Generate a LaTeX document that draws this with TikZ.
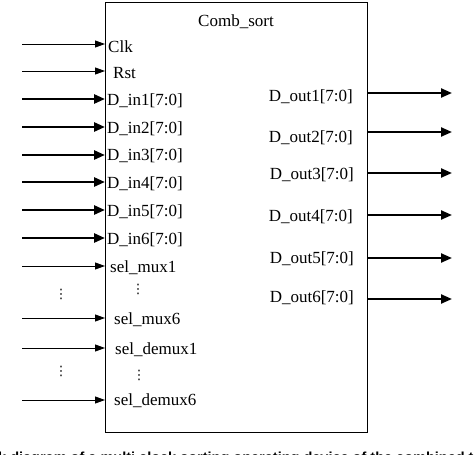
\documentclass[tikz,border=0pt]{standalone}
\usepackage{fontspec}
\setmainfont{Liberation Serif}
\newfontfamily\capfont{Liberation Sans}
\newfontfamily\symfont{DejaVu Sans}
\usetikzlibrary{arrows.meta}
\begin{document}
\begin{tikzpicture}[x=1pt,y=-1pt,
  lbl/.style={inner sep=0pt,font=\fontsize{17}{20}\selectfont},
  inl/.style={lbl,anchor=west},
  outl/.style={lbl,anchor=east},
  thinarr/.style={line width=0.9pt,-{Triangle[length=10pt,width=7pt]}},
  thickarr/.style={line width=2.6pt,-{Triangle[length=11pt,width=9pt]}},
  dotsnode/.style={inner sep=0pt,font=\symfont\fontsize{13}{15}\selectfont}]
\useasboundingbox (0,0) rectangle (474,455);
\clip (0,0) rectangle (474,455);
% block
\node[draw,line width=1.4pt,minimum width=262pt,minimum height=430pt,anchor=north west,inner sep=0pt] (blk) at (105,2) {};
\node[lbl] (title) at (236,22) {Comb\_sort};
% input ports (coordinates on block edge)
\foreach \n/\y in {clk/44,rst/71,d1/99,d2/127,d3/155,d4/182,d5/210,d6/238,sm1/266,sm6/318,sd1/348,sd6/400}{
  \coordinate (p\n) at (blk.west |- 0,\y);
  \coordinate (s\n) at (22,\y);
}
\draw[thinarr] (sclk) -- (pclk);
\draw[thinarr] (srst) -- (prst);
\foreach \n in {d1,d2,d3,d4,d5,d6}{\draw[thickarr] (s\n) -- (p\n);}
\foreach \n in {sm1,sm6,sd1,sd6}{\draw[thinarr] (s\n) -- (p\n);}
% input labels
\node[inl] (lclk) at (108,47) {Clk};
\node[inl] (lrst) at (113,73) {Rst};
\node[inl] (ld1) at (107,101) {D\_in1[7:0]};
\node[inl] (ld2) at (107,129) {D\_in2[7:0]};
\node[inl] (ld3) at (107,156) {D\_in3[7:0]};
\node[inl] (ld4) at (107,184) {D\_in4[7:0]};
\node[inl] (ld5) at (107,212) {D\_in5[7:0]};
\node[inl] (ld6) at (107,240) {D\_in6[7:0]};
\node[inl] (lsm1) at (110,268) {sel\_mux1};
\node[inl] (lsm6) at (114,320) {sel\_mux6};
\node[inl] (lsd1) at (115,350) {sel\_demux1};
\node[inl] (lsd6) at (114,401) {sel\_demux6};
% dots
\node[dotsnode] (dA) at (61,294) {⋮};
\node[dotsnode] (dB) at (138,289) {⋮};
\node[dotsnode] (dC) at (61,371) {⋮};
\node[dotsnode] (dD) at (139,375) {⋮};
% outputs
\foreach \n/\y in {o1/93,o2/132,o3/173,o4/215,o5/258,o6/299}{
  \coordinate (q\n) at (blk.east |- 0,\y);
  \coordinate (t\n) at (452,\y);
  \draw[thickarr,line width=2.2pt] (q\n) -- (t\n);
}
\node[outl] (lo1) at (353,97) {D\_out1[7:0]};
\node[outl] (lo2) at (353,138) {D\_out2[7:0]};
\node[outl] (lo3) at (354,175) {D\_out3[7:0]};
\node[outl] (lo4) at (353,217) {D\_out4[7:0]};
\node[outl] (lo5) at (354,259) {D\_out5[7:0]};
\node[outl] (lo6) at (354,298) {D\_out6[7:0]};
% caption (cut off)
\node[anchor=north west,inner sep=0pt,font=\capfont\bfseries\fontsize{14.5}{16}\selectfont] (cap) at (-2,452) {k diagram of a multi clock sorting operating device of the combined t};
\end{tikzpicture}
\end{document}
